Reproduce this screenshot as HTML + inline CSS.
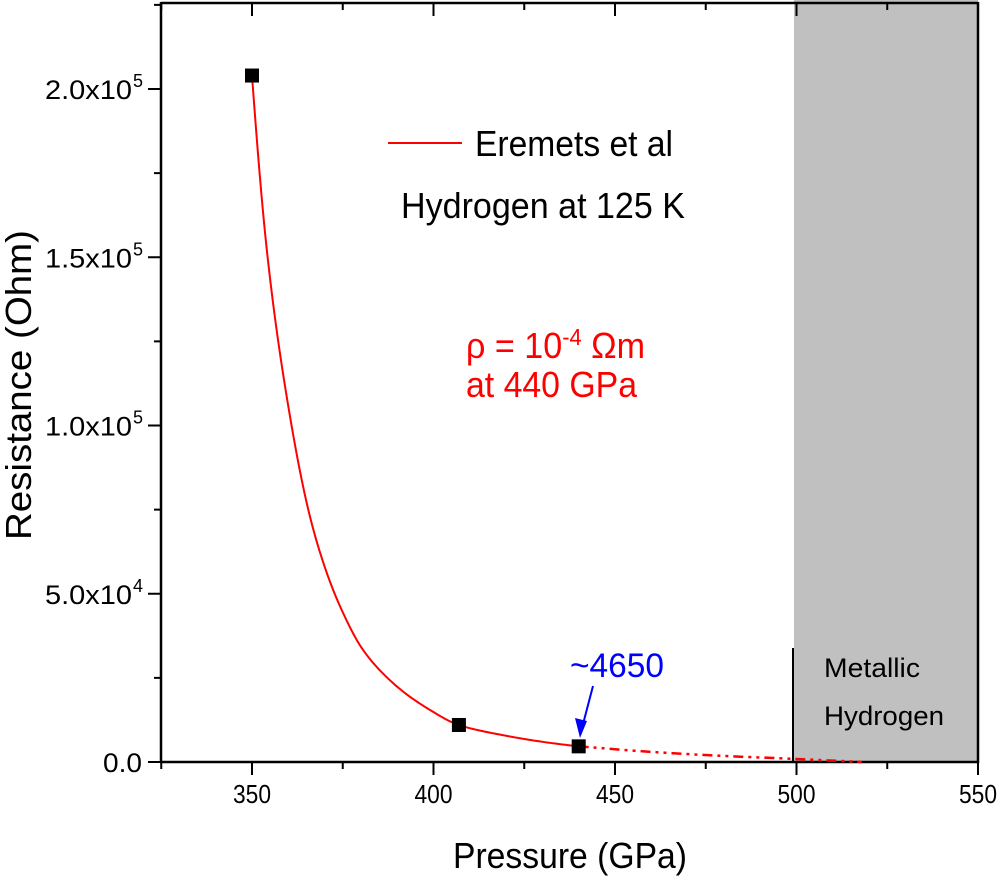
<!DOCTYPE html>
<html><head><meta charset="utf-8"><style>
body{margin:0;background:#fff}
svg text{font-family:"Liberation Sans Narrow","Liberation Sans",sans-serif}
</style></head><body>
<svg id="chart" width="1004" height="883" viewBox="0 0 1004 883" xmlns="http://www.w3.org/2000/svg">
<rect x="794" y="0" width="184" height="762" fill="#c0c0c0"/>
<g id="axes"></g>
<g id="marks"></g>
<line x1="793" y1="648" x2="793" y2="762" stroke="#000" stroke-width="2"/>
<text x="824" y="677" font-size="27" textLength="96" lengthAdjust="spacingAndGlyphs">Metallic</text>
<text x="824" y="725" font-size="27" textLength="120" lengthAdjust="spacingAndGlyphs">Hydrogen</text>
<line x1="388" y1="143" x2="462" y2="143" stroke="red" stroke-width="2"/>
<text x="475" y="156" font-size="36" textLength="198" lengthAdjust="spacingAndGlyphs">Eremets et al</text>
<text x="401" y="218" font-size="36" textLength="284" lengthAdjust="spacingAndGlyphs">Hydrogen at 125 K</text>
<text x="466" y="358" font-size="36" fill="red" textLength="179" lengthAdjust="spacingAndGlyphs">ρ = 10<tspan dy="-13" font-size="23">-4</tspan><tspan dy="13"> Ωm</tspan></text>
<text x="466" y="397" font-size="36" fill="red" textLength="171" lengthAdjust="spacingAndGlyphs">at 440 GPa</text>
<text x="570" y="677" font-size="34" fill="blue" textLength="94" lengthAdjust="spacingAndGlyphs">~4650</text>
<line x1="593" y1="686" x2="582" y2="728" stroke="blue" stroke-width="2"/>
<polygon points="580,738 575,718 587,721" fill="blue"/>
<text x="570" y="868" font-size="36" text-anchor="middle" textLength="234" lengthAdjust="spacingAndGlyphs">Pressure (GPa)</text>
<text transform="translate(31,385) rotate(-90)" font-size="36" text-anchor="middle" textLength="310" lengthAdjust="spacingAndGlyphs">Resistance (Ohm)</text>
</svg>
<script>
const pointP=[350,407,440];
const pointR=[204000,11000,4650];
const curveP=[350,354.1,360.5,366,371,375,380.6,388.8,399,407,420,430,440];
const curveR=[204000,152000,102500,72800,55000,44500,33300,23500,15500,11000,7800,6000,4650];
const extP=[440,460,480,500,518];
const extR=[4650,3000,1800,900,0];
const xTicks=[350,400,450,500,550];
const yTicks=[0,50000,100000,150000,200000];
const yTickLabels=["0.0","5.0x10|4","1.0x10|5","1.5x10|5","2.0x10|5"];
const X=p=>252+(p-350)*181.5/50;
const Y=r=>762-r*168.25/50000;
const NS="http://www.w3.org/2000/svg";
const ax=document.getElementById('axes'),mk=document.getElementById('marks');
function el(t,a,par){const e=document.createElementNS(NS,t);for(const k in a)e.setAttribute(k,a[k]);par.appendChild(e);return e;}
function smooth(ps,rs){const pts=ps.map((p,i)=>[X(p),Y(rs[i])]);let d='M'+pts[0][0]+','+pts[0][1];
 for(let i=0;i<pts.length-1;i++){const p0=pts[Math.max(i-1,0)],p1=pts[i],p2=pts[i+1],p3=pts[Math.min(i+2,pts.length-1)];
  const c1=[p1[0]+(p2[0]-p0[0])/6,p1[1]+(p2[1]-p0[1])/6],c2=[p2[0]-(p3[0]-p1[0])/6,p2[1]-(p3[1]-p1[1])/6];
  d+=' C'+c1+' '+c2+' '+p2;}return d;}
// smooth in log space (Catmull-Rom on ln R vs P), sampled finely
function logSmooth(ps,rs){const L=rs.map(Math.log);const n=ps.length;const m=[];
 for(let i=0;i<n;i++){const a=Math.max(i-1,0),b=Math.min(i+1,n-1);m.push((L[b]-L[a])/(ps[b]-ps[a]));}
 let d='';
 for(let i=0;i<n-1;i++){const h=ps[i+1]-ps[i];
  for(let k=0;k<=20;k++){if(i>0&&k===0)continue;const t=k/20,t2=t*t,t3=t2*t;
   const v=(2*t3-3*t2+1)*L[i]+(t3-2*t2+t)*h*m[i]+(-2*t3+3*t2)*L[i+1]+(t3-t2)*h*m[i+1];
   d+=(d?'L':'M')+X(ps[i]+t*h).toFixed(2)+','+Y(Math.exp(v)).toFixed(2)+' ';}}
 return d;}
let e;
e=el('path',{d:'M161,3 H978 M161,2 V763 M160,762 H979 M978,2 V763',stroke:'#000','stroke-width':2.5,fill:'none'},ax);


for(let p=325;p<=550;p+=25){const maj=p%50===0;
 e=el('line',{x1:X(p),x2:X(p),y1:762,y2:762+(maj?13:7),stroke:'#000','stroke-width':2},ax);
 
 
 e=el('line',{x1:X(p),x2:X(p),y1:3,y2:3+(maj?13:7),stroke:'#000','stroke-width':2},ax);
 
 
}
xTicks.forEach(p=>{e=el('text',{x:X(p),y:803,'font-size':26,'text-anchor':'middle',textLength:38,lengthAdjust:'spacingAndGlyphs'},ax);e.textContent=p;
 
 });
for(let r=0;r<=225000;r+=25000){const maj=r%50000===0;
 e=el('line',{x1:161,x2:161-(maj?13:7),y1:Y(r),y2:Y(r),stroke:'#000','stroke-width':2},ax);
 
 }
yTicks.forEach((r,i)=>{const [b,s]=yTickLabels[i].split('|');
 if(s){e=el('text',{x:45,y:Y(r)+10,'font-size':27,textLength:87,lengthAdjust:'spacingAndGlyphs'},ax);e.textContent=b;
  const t=el('text',{x:133,y:Y(r)-2,'font-size':18},ax);t.textContent=s;
  
  }
 else{e=el('text',{x:142,y:Y(r)+10,'font-size':27,'text-anchor':'end',textLength:39,lengthAdjust:'spacingAndGlyphs'},ax);e.textContent=b;}
 
 });
e=el('path',{d:logSmooth(curveP,curveR),stroke:'red','stroke-width':2,fill:'none','stroke-linejoin':'round'},mk);


e=el('path',{d:smooth(extP,extR),stroke:'red','stroke-width':2.5,fill:'none','stroke-dasharray':'10 5 3 5 3 5'},mk);


pointP.forEach((p,i)=>{e=el('rect',{x:X(p)-7,y:Y(pointR[i])-7,width:14,height:14,fill:'#000'},mk);
 
 });
</script>
</body></html>
